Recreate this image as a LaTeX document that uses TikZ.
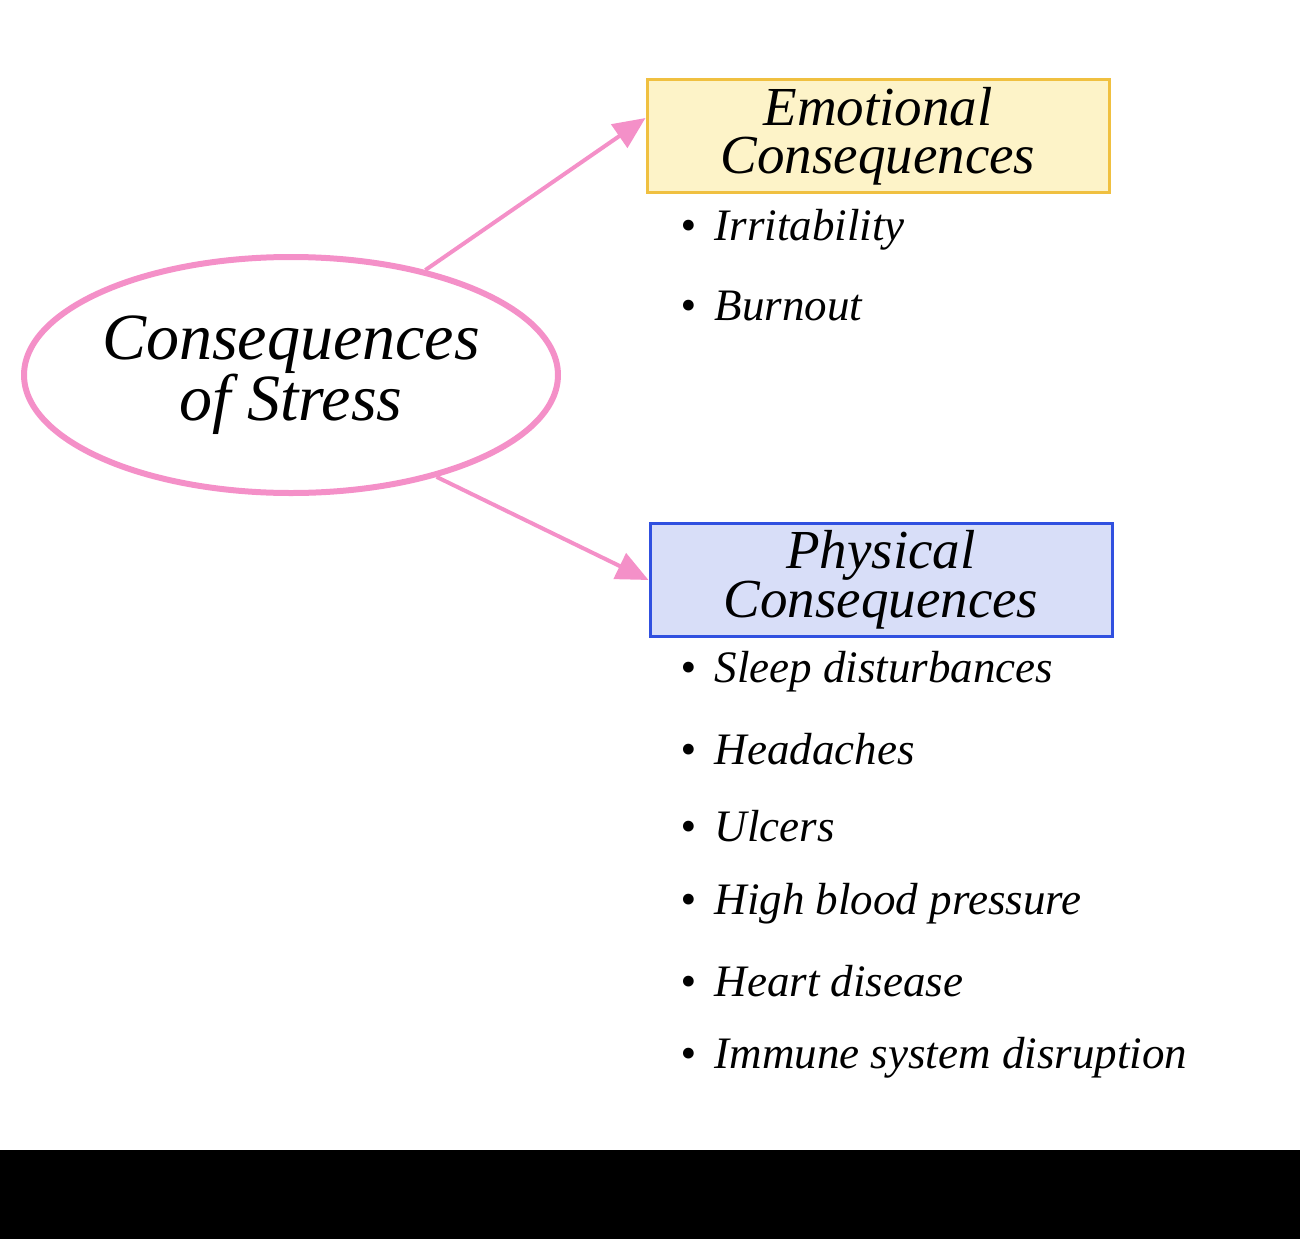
\documentclass[tikz,border=0pt]{standalone}
\usepackage{fontspec}
\setmainfont{Liberation Serif}
\usetikzlibrary{arrows.meta,shapes.geometric}
\definecolor{pinkc}{HTML}{F490C8}
\definecolor{yfill}{HTML}{FDF3C8}
\definecolor{yline}{HTML}{F0C040}
\definecolor{bfill}{HTML}{D8DEF8}
\definecolor{bline}{HTML}{3050E0}
\tikzset{
 box/.style={draw, line width=3pt, minimum width=462pt, minimum height=113pt, align=center, font=\fontsize{55}{48}\selectfont\itshape, inner sep=0pt},
 item/.style={anchor=west, font=\fontsize{45}{46}\selectfont\itshape, inner sep=0pt},
 conn/.style={draw=pinkc, line width=4pt, -{Triangle[length=32pt,width=28pt]}}
}
\begin{document}
\begin{tikzpicture}[x=1pt,y=-1pt]
\useasboundingbox (0,0) rectangle (1300,1239);
\fill[black] (0,1150) rectangle (1300,1239);
\node[draw=pinkc, line width=6pt, ellipse, minimum width=436pt, minimum height=236pt, inner sep=0pt, align=center, font=\fontsize{66}{58}\selectfont\itshape] (main) at (291,375) {Consequences\\of Stress};
\node[box, fill=yfill, draw=yline] (emo) at (878,136) {Emotional\\Consequences};
\node[box, fill=bfill, draw=bline] (phy) at (881,580) {Physical\\Consequences};
\draw[conn] (main.38) -- ([yshift=18pt]emo.west);
\draw[conn] (main.-35) -- (phy.west);
\foreach \t/\y in {Irritability/230, Burnout/306}
  \node[item] at (680,\y) {•\, \t};
\foreach \t/\y in {Sleep disturbances/672, Headaches/749, Ulcers/826, High blood pressure/904, Heart disease/981, Immune system disruption/1058}
  \node[item] at (680,\y) {•\, \t};
\end{tikzpicture}
\end{document}
